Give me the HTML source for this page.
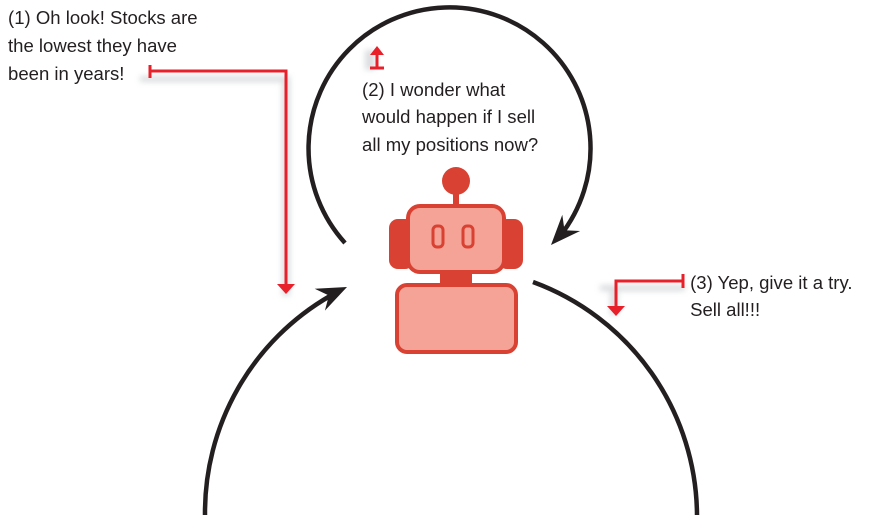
<!DOCTYPE html>
<html><head><style>
body{margin:0;background:#fff;width:874px;height:524px;overflow:hidden}
svg{display:block}
text{font-family:"Liberation Sans",sans-serif;font-size:18px;fill:#231f20}
</style></head><body>
<svg width="874" height="524" viewBox="0 0 874 524">
<defs><filter id="sh" x="-50%" y="-50%" width="200%" height="200%"><feGaussianBlur stdDeviation="3"/></filter></defs>
<g fill="none" stroke="#231f20" stroke-width="4.5">
<path d="M345,243 A141,141 0 1 1 560,236"/>
<path d="M205,515 A250,250 0 0 1 330,296"/>
<path d="M533,282 A250,250 0 0 1 697,515"/>
</g>
<polygon points="347,287 324.9,310.6 328.9,295.5 314.7,288.8" fill="#231f20"/>
<polygon points="551,245 580.1,231.0 564.5,230.2 562.3,214.8" fill="#231f20"/>
<g fill="#9aa0a8" opacity="0.35" filter="url(#sh)">
<rect x="140" y="76" width="150" height="6"/><rect x="282" y="76" width="8" height="220"/>
<rect x="600" y="285" width="85" height="6"/><rect x="610" y="285" width="8" height="30"/>
<rect x="365" y="50" width="10" height="20"/>
</g>
<g stroke="#e8202a" stroke-width="3" fill="none">
<path d="M150,71 H286 V284"/><path d="M150,65 V78"/>
<path d="M683,274 V288"/><path d="M683,281 H616 V306"/>
<path d="M377,68 V54"/><path d="M370,68 H384"/>
</g>
<polygon points="277,284 295,284 286,294" fill="#e8202a"/>
<polygon points="607,306 625,306 616,316" fill="#e8202a"/>
<polygon points="370,55 384,55 377,46" fill="#e8202a"/>
<circle cx="456" cy="181" r="14" fill="#d94232"/>
<rect x="453" y="193" width="6" height="14" fill="#d94232"/>
<rect x="389" y="219" width="25" height="50" rx="9" fill="#d94232"/>
<rect x="498" y="219" width="25" height="50" rx="9" fill="#d94232"/>
<rect x="408" y="206" width="96" height="66" rx="12" fill="#f5a397" stroke="#d94232" stroke-width="4"/>
<rect x="433" y="226" width="10" height="21" rx="4" fill="#f5a397" stroke="#d94232" stroke-width="3"/>
<rect x="463" y="226" width="10" height="21" rx="4" fill="#f5a397" stroke="#d94232" stroke-width="3"/>
<rect x="440" y="272" width="32" height="14" fill="#d94232"/>
<rect x="397" y="285" width="119" height="67" rx="10" fill="#f5a397" stroke="#d94232" stroke-width="4"/>
<g transform="scale(1.03,1)">
<text x="7.8" y="24">(1) Oh look! Stocks are</text>
<text x="7.8" y="52">the lowest they have</text>
<text x="7.8" y="80">been in years!</text>
<text x="351.5" y="96">(2) I wonder what</text>
<text x="351.5" y="123">would happen if I sell</text>
<text x="351.5" y="151">all my positions now?</text>
<text x="670" y="289">(3) Yep, give it a try.</text>
<text x="670" y="316">Sell all!!!</text>
</g>
</svg>
</body></html>
